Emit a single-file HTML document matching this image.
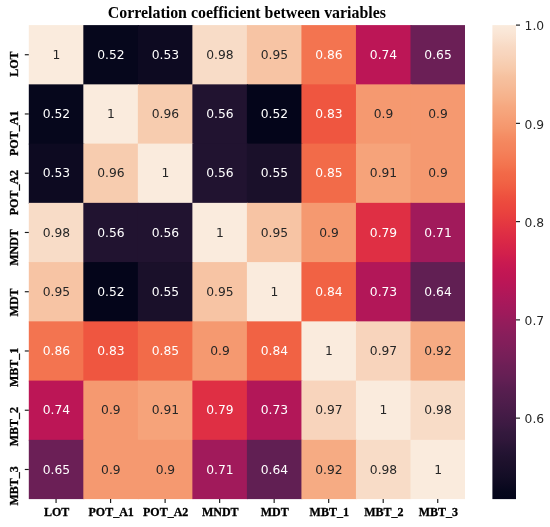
<!DOCTYPE html>
<html><head><meta charset="utf-8"><title>Correlation coefficient between variables</title>
<style>html,body{margin:0;padding:0;background:#fff}svg{display:block}.an{font-family:"DejaVu Sans","Liberation Sans",sans-serif;font-size:12.3px;text-anchor:middle}.tk{font-family:"Liberation Serif",serif;font-weight:bold;font-size:12px;fill:#000;stroke:#000;stroke-width:0.3px}.cb{font-family:"DejaVu Sans","Liberation Sans",sans-serif;font-size:12.3px;fill:#262626}.ti{font-family:"Liberation Serif",serif;font-weight:bold;font-size:15.9px;fill:#000;text-anchor:middle}</style></head><body>
<svg width="550" height="527" viewBox="0 0 550 527">
<rect width="550" height="527" fill="#fff"/>
<defs><linearGradient id="g" x1="0" y1="0" x2="0" y2="1"><stop offset="0.0000" stop-color="#faebdd"/><stop offset="0.0156" stop-color="#fae6d6"/><stop offset="0.0312" stop-color="#f9e0cd"/><stop offset="0.0469" stop-color="#f8d9c3"/><stop offset="0.0625" stop-color="#f8d4bc"/><stop offset="0.0781" stop-color="#f7cfb3"/><stop offset="0.0938" stop-color="#f7c9aa"/><stop offset="0.1094" stop-color="#f6c19f"/><stop offset="0.1250" stop-color="#f6bc99"/><stop offset="0.1406" stop-color="#f6b691"/><stop offset="0.1562" stop-color="#f6b089"/><stop offset="0.1719" stop-color="#f6a880"/><stop offset="0.1875" stop-color="#f6a37a"/><stop offset="0.2031" stop-color="#f69c73"/><stop offset="0.2188" stop-color="#f5966c"/><stop offset="0.2344" stop-color="#f58d64"/><stop offset="0.2500" stop-color="#f4865e"/><stop offset="0.2656" stop-color="#f4815a"/><stop offset="0.2812" stop-color="#f47a54"/><stop offset="0.2969" stop-color="#f3734e"/><stop offset="0.3125" stop-color="#f26948"/><stop offset="0.3281" stop-color="#f16445"/><stop offset="0.3438" stop-color="#f05c42"/><stop offset="0.3594" stop-color="#ee523f"/><stop offset="0.3750" stop-color="#ec4a3e"/><stop offset="0.3906" stop-color="#ea443e"/><stop offset="0.4062" stop-color="#e73d3f"/><stop offset="0.4219" stop-color="#e33641"/><stop offset="0.4375" stop-color="#df2f44"/><stop offset="0.4531" stop-color="#db2946"/><stop offset="0.4688" stop-color="#d62449"/><stop offset="0.4844" stop-color="#d11f4c"/><stop offset="0.5000" stop-color="#ca1a50"/><stop offset="0.5156" stop-color="#c41753"/><stop offset="0.5312" stop-color="#bf1654"/><stop offset="0.5469" stop-color="#b91657"/><stop offset="0.5625" stop-color="#b21758"/><stop offset="0.5781" stop-color="#ab185a"/><stop offset="0.5938" stop-color="#a4195b"/><stop offset="0.6094" stop-color="#9e1a5b"/><stop offset="0.6250" stop-color="#951c5b"/><stop offset="0.6406" stop-color="#8e1d5b"/><stop offset="0.6562" stop-color="#871e5b"/><stop offset="0.6719" stop-color="#821e5a"/><stop offset="0.6875" stop-color="#7b1f59"/><stop offset="0.7031" stop-color="#751f58"/><stop offset="0.7188" stop-color="#6d1f56"/><stop offset="0.7344" stop-color="#681f55"/><stop offset="0.7500" stop-color="#611f53"/><stop offset="0.7656" stop-color="#591e50"/><stop offset="0.7812" stop-color="#531e4d"/><stop offset="0.7969" stop-color="#4e1d4b"/><stop offset="0.8125" stop-color="#481c48"/><stop offset="0.8281" stop-color="#421b45"/><stop offset="0.8438" stop-color="#3c1a42"/><stop offset="0.8594" stop-color="#34193d"/><stop offset="0.8750" stop-color="#30173a"/><stop offset="0.8906" stop-color="#281535"/><stop offset="0.9062" stop-color="#221331"/><stop offset="0.9219" stop-color="#1d112c"/><stop offset="0.9375" stop-color="#180f29"/><stop offset="0.9531" stop-color="#130d25"/><stop offset="0.9688" stop-color="#0d0a21"/><stop offset="0.9844" stop-color="#06071c"/><stop offset="1.0000" stop-color="#03051a"/></linearGradient></defs>
<g>
<rect x="28.80" y="25.10" width="55.52" height="60.25" fill="#faebdd"/>
<rect x="83.33" y="25.10" width="55.52" height="60.25" fill="#06071c"/>
<rect x="137.85" y="25.10" width="55.52" height="60.25" fill="#0d0a21"/>
<rect x="192.38" y="25.10" width="55.52" height="60.25" fill="#f8dcc7"/>
<rect x="246.90" y="25.10" width="55.52" height="60.25" fill="#f7c4a4"/>
<rect x="301.43" y="25.10" width="55.52" height="60.25" fill="#f37450"/>
<rect x="355.95" y="25.10" width="55.52" height="60.25" fill="#bc1656"/>
<rect x="410.48" y="25.10" width="54.52" height="60.25" fill="#6b1f56"/>
<rect x="28.80" y="84.35" width="55.52" height="60.25" fill="#06071c"/>
<rect x="83.33" y="84.35" width="55.52" height="60.25" fill="#faebdd"/>
<rect x="137.85" y="84.35" width="55.52" height="60.25" fill="#f7ccaf"/>
<rect x="192.38" y="84.35" width="55.52" height="60.25" fill="#211330"/>
<rect x="246.90" y="84.35" width="55.52" height="60.25" fill="#04051a"/>
<rect x="301.43" y="84.35" width="55.52" height="60.25" fill="#ef5640"/>
<rect x="355.95" y="84.35" width="55.52" height="60.25" fill="#f59970"/>
<rect x="410.48" y="84.35" width="54.52" height="60.25" fill="#f59970"/>
<rect x="28.80" y="143.60" width="55.52" height="60.25" fill="#0d0a21"/>
<rect x="83.33" y="143.60" width="55.52" height="60.25" fill="#f7ccaf"/>
<rect x="137.85" y="143.60" width="55.52" height="60.25" fill="#faebdd"/>
<rect x="192.38" y="143.60" width="55.52" height="60.25" fill="#211330"/>
<rect x="246.90" y="143.60" width="55.52" height="60.25" fill="#1a102a"/>
<rect x="301.43" y="143.60" width="55.52" height="60.25" fill="#f26b49"/>
<rect x="355.95" y="143.60" width="55.52" height="60.25" fill="#f6a37a"/>
<rect x="410.48" y="143.60" width="54.52" height="60.25" fill="#f59970"/>
<rect x="28.80" y="202.85" width="55.52" height="60.25" fill="#f8dcc7"/>
<rect x="83.33" y="202.85" width="55.52" height="60.25" fill="#211330"/>
<rect x="137.85" y="202.85" width="55.52" height="60.25" fill="#211330"/>
<rect x="192.38" y="202.85" width="55.52" height="60.25" fill="#faebdd"/>
<rect x="246.90" y="202.85" width="55.52" height="60.25" fill="#f7c4a4"/>
<rect x="301.43" y="202.85" width="55.52" height="60.25" fill="#f59970"/>
<rect x="355.95" y="202.85" width="55.52" height="60.25" fill="#df2f44"/>
<rect x="410.48" y="202.85" width="54.52" height="60.25" fill="#a11a5b"/>
<rect x="28.80" y="262.10" width="55.52" height="60.25" fill="#f7c4a4"/>
<rect x="83.33" y="262.10" width="55.52" height="60.25" fill="#04051a"/>
<rect x="137.85" y="262.10" width="55.52" height="60.25" fill="#1a102a"/>
<rect x="192.38" y="262.10" width="55.52" height="60.25" fill="#f7c4a4"/>
<rect x="246.90" y="262.10" width="55.52" height="60.25" fill="#faebdd"/>
<rect x="301.43" y="262.10" width="55.52" height="60.25" fill="#f16244"/>
<rect x="355.95" y="262.10" width="55.52" height="60.25" fill="#b21758"/>
<rect x="410.48" y="262.10" width="54.52" height="60.25" fill="#611f53"/>
<rect x="28.80" y="321.35" width="55.52" height="60.25" fill="#f37450"/>
<rect x="83.33" y="321.35" width="55.52" height="60.25" fill="#ef5640"/>
<rect x="137.85" y="321.35" width="55.52" height="60.25" fill="#f26b49"/>
<rect x="192.38" y="321.35" width="55.52" height="60.25" fill="#f59970"/>
<rect x="246.90" y="321.35" width="55.52" height="60.25" fill="#f16244"/>
<rect x="301.43" y="321.35" width="55.52" height="60.25" fill="#faebdd"/>
<rect x="355.95" y="321.35" width="55.52" height="60.25" fill="#f8d4bc"/>
<rect x="410.48" y="321.35" width="54.52" height="60.25" fill="#f6ab83"/>
<rect x="28.80" y="380.60" width="55.52" height="60.25" fill="#bc1656"/>
<rect x="83.33" y="380.60" width="55.52" height="60.25" fill="#f59970"/>
<rect x="137.85" y="380.60" width="55.52" height="60.25" fill="#f6a37a"/>
<rect x="192.38" y="380.60" width="55.52" height="60.25" fill="#df2f44"/>
<rect x="246.90" y="380.60" width="55.52" height="60.25" fill="#b21758"/>
<rect x="301.43" y="380.60" width="55.52" height="60.25" fill="#f8d4bc"/>
<rect x="355.95" y="380.60" width="55.52" height="60.25" fill="#faebdd"/>
<rect x="410.48" y="380.60" width="54.52" height="60.25" fill="#f8dcc7"/>
<rect x="28.80" y="439.85" width="55.52" height="59.25" fill="#6b1f56"/>
<rect x="83.33" y="439.85" width="55.52" height="59.25" fill="#f59970"/>
<rect x="137.85" y="439.85" width="55.52" height="59.25" fill="#f59970"/>
<rect x="192.38" y="439.85" width="55.52" height="59.25" fill="#a11a5b"/>
<rect x="246.90" y="439.85" width="55.52" height="59.25" fill="#611f53"/>
<rect x="301.43" y="439.85" width="55.52" height="59.25" fill="#f6ab83"/>
<rect x="355.95" y="439.85" width="55.52" height="59.25" fill="#f8dcc7"/>
<rect x="410.48" y="439.85" width="54.52" height="59.25" fill="#faebdd"/>
</g>
<rect x="492.4" y="25.1" width="23.60" height="474.00" fill="url(#g)"/>
<text class="an" x="56.36" y="58.83" fill="#262626">1</text>
<text class="an" x="110.89" y="58.83" fill="#ffffff">0.52</text>
<text class="an" x="165.41" y="58.83" fill="#ffffff">0.53</text>
<text class="an" x="219.94" y="58.83" fill="#262626">0.98</text>
<text class="an" x="274.46" y="58.83" fill="#262626">0.95</text>
<text class="an" x="328.99" y="58.83" fill="#ffffff">0.86</text>
<text class="an" x="383.51" y="58.83" fill="#ffffff">0.74</text>
<text class="an" x="438.04" y="58.83" fill="#ffffff">0.65</text>
<text class="an" x="56.36" y="118.07" fill="#ffffff">0.52</text>
<text class="an" x="110.89" y="118.07" fill="#262626">1</text>
<text class="an" x="165.41" y="118.07" fill="#262626">0.96</text>
<text class="an" x="219.94" y="118.07" fill="#ffffff">0.56</text>
<text class="an" x="274.46" y="118.07" fill="#ffffff">0.52</text>
<text class="an" x="328.99" y="118.07" fill="#ffffff">0.83</text>
<text class="an" x="383.51" y="118.07" fill="#262626">0.9</text>
<text class="an" x="438.04" y="118.07" fill="#262626">0.9</text>
<text class="an" x="56.36" y="177.32" fill="#ffffff">0.53</text>
<text class="an" x="110.89" y="177.32" fill="#262626">0.96</text>
<text class="an" x="165.41" y="177.32" fill="#262626">1</text>
<text class="an" x="219.94" y="177.32" fill="#ffffff">0.56</text>
<text class="an" x="274.46" y="177.32" fill="#ffffff">0.55</text>
<text class="an" x="328.99" y="177.32" fill="#ffffff">0.85</text>
<text class="an" x="383.51" y="177.32" fill="#262626">0.91</text>
<text class="an" x="438.04" y="177.32" fill="#262626">0.9</text>
<text class="an" x="56.36" y="236.57" fill="#262626">0.98</text>
<text class="an" x="110.89" y="236.57" fill="#ffffff">0.56</text>
<text class="an" x="165.41" y="236.57" fill="#ffffff">0.56</text>
<text class="an" x="219.94" y="236.57" fill="#262626">1</text>
<text class="an" x="274.46" y="236.57" fill="#262626">0.95</text>
<text class="an" x="328.99" y="236.57" fill="#262626">0.9</text>
<text class="an" x="383.51" y="236.57" fill="#ffffff">0.79</text>
<text class="an" x="438.04" y="236.57" fill="#ffffff">0.71</text>
<text class="an" x="56.36" y="295.83" fill="#262626">0.95</text>
<text class="an" x="110.89" y="295.83" fill="#ffffff">0.52</text>
<text class="an" x="165.41" y="295.83" fill="#ffffff">0.55</text>
<text class="an" x="219.94" y="295.83" fill="#262626">0.95</text>
<text class="an" x="274.46" y="295.83" fill="#262626">1</text>
<text class="an" x="328.99" y="295.83" fill="#ffffff">0.84</text>
<text class="an" x="383.51" y="295.83" fill="#ffffff">0.73</text>
<text class="an" x="438.04" y="295.83" fill="#ffffff">0.64</text>
<text class="an" x="56.36" y="355.08" fill="#ffffff">0.86</text>
<text class="an" x="110.89" y="355.08" fill="#ffffff">0.83</text>
<text class="an" x="165.41" y="355.08" fill="#ffffff">0.85</text>
<text class="an" x="219.94" y="355.08" fill="#262626">0.9</text>
<text class="an" x="274.46" y="355.08" fill="#ffffff">0.84</text>
<text class="an" x="328.99" y="355.08" fill="#262626">1</text>
<text class="an" x="383.51" y="355.08" fill="#262626">0.97</text>
<text class="an" x="438.04" y="355.08" fill="#262626">0.92</text>
<text class="an" x="56.36" y="414.33" fill="#ffffff">0.74</text>
<text class="an" x="110.89" y="414.33" fill="#262626">0.9</text>
<text class="an" x="165.41" y="414.33" fill="#262626">0.91</text>
<text class="an" x="219.94" y="414.33" fill="#ffffff">0.79</text>
<text class="an" x="274.46" y="414.33" fill="#ffffff">0.73</text>
<text class="an" x="328.99" y="414.33" fill="#262626">0.97</text>
<text class="an" x="383.51" y="414.33" fill="#262626">1</text>
<text class="an" x="438.04" y="414.33" fill="#262626">0.98</text>
<text class="an" x="56.36" y="473.58" fill="#ffffff">0.65</text>
<text class="an" x="110.89" y="473.58" fill="#262626">0.9</text>
<text class="an" x="165.41" y="473.58" fill="#262626">0.9</text>
<text class="an" x="219.94" y="473.58" fill="#ffffff">0.71</text>
<text class="an" x="274.46" y="473.58" fill="#ffffff">0.64</text>
<text class="an" x="328.99" y="473.58" fill="#262626">0.92</text>
<text class="an" x="383.51" y="473.58" fill="#262626">0.98</text>
<text class="an" x="438.04" y="473.58" fill="#262626">1</text>
<g stroke="#1a1a1a" stroke-width="1.15">
<line x1="56.06" y1="499.10" x2="56.06" y2="503.10"/>
<line x1="24.80" y1="54.73" x2="28.80" y2="54.73"/>
<line x1="110.59" y1="499.10" x2="110.59" y2="503.10"/>
<line x1="24.80" y1="113.97" x2="28.80" y2="113.97"/>
<line x1="165.11" y1="499.10" x2="165.11" y2="503.10"/>
<line x1="24.80" y1="173.22" x2="28.80" y2="173.22"/>
<line x1="219.64" y1="499.10" x2="219.64" y2="503.10"/>
<line x1="24.80" y1="232.47" x2="28.80" y2="232.47"/>
<line x1="274.16" y1="499.10" x2="274.16" y2="503.10"/>
<line x1="24.80" y1="291.73" x2="28.80" y2="291.73"/>
<line x1="328.69" y1="499.10" x2="328.69" y2="503.10"/>
<line x1="24.80" y1="350.98" x2="28.80" y2="350.98"/>
<line x1="383.21" y1="499.10" x2="383.21" y2="503.10"/>
<line x1="24.80" y1="410.23" x2="28.80" y2="410.23"/>
<line x1="437.74" y1="499.10" x2="437.74" y2="503.10"/>
<line x1="24.80" y1="469.48" x2="28.80" y2="469.48"/>
<line x1="516.00" y1="25.10" x2="520.00" y2="25.10"/>
<line x1="516.00" y1="123.36" x2="520.00" y2="123.36"/>
<line x1="516.00" y1="221.62" x2="520.00" y2="221.62"/>
<line x1="516.00" y1="319.88" x2="520.00" y2="319.88"/>
<line x1="516.00" y1="418.13" x2="520.00" y2="418.13"/>
</g>
<text class="cb" x="524.6" y="30.40">1.0</text>
<text class="cb" x="524.6" y="128.66">0.9</text>
<text class="cb" x="524.6" y="226.92">0.8</text>
<text class="cb" x="524.6" y="325.18">0.7</text>
<text class="cb" x="524.6" y="423.43">0.6</text>
<text class="tk" x="56.66" y="516.4" text-anchor="middle">LOT</text>
<text class="tk" transform="translate(18.3 51.43) rotate(-90)" text-anchor="end">LOT</text>
<text class="tk" x="111.19" y="516.4" text-anchor="middle">POT_A1</text>
<text class="tk" transform="translate(18.3 110.67) rotate(-90)" text-anchor="end">POT_A1</text>
<text class="tk" x="165.71" y="516.4" text-anchor="middle">POT_A2</text>
<text class="tk" transform="translate(18.3 169.92) rotate(-90)" text-anchor="end">POT_A2</text>
<text class="tk" x="220.24" y="516.4" text-anchor="middle">MNDT</text>
<text class="tk" transform="translate(18.3 229.17) rotate(-90)" text-anchor="end">MNDT</text>
<text class="tk" x="274.76" y="516.4" text-anchor="middle">MDT</text>
<text class="tk" transform="translate(18.3 288.43) rotate(-90)" text-anchor="end">MDT</text>
<text class="tk" x="329.29" y="516.4" text-anchor="middle">MBT_1</text>
<text class="tk" transform="translate(18.3 347.68) rotate(-90)" text-anchor="end">MBT_1</text>
<text class="tk" x="383.81" y="516.4" text-anchor="middle">MBT_2</text>
<text class="tk" transform="translate(18.3 406.93) rotate(-90)" text-anchor="end">MBT_2</text>
<text class="tk" x="438.34" y="516.4" text-anchor="middle">MBT_3</text>
<text class="tk" transform="translate(18.3 466.18) rotate(-90)" text-anchor="end">MBT_3</text>
<text class="ti" x="246.9" y="18.1">Correlation coefficient between variables</text>
</svg></body></html>
